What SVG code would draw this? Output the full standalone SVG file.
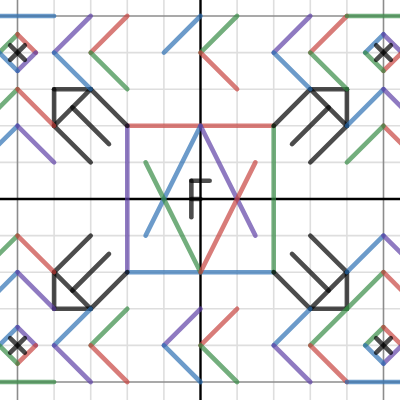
<svg xmlns="http://www.w3.org/2000/svg" width="400" height="400" viewBox="0 0 400 400">
<style>
line { vector-effect: non-scaling-stroke; stroke-linecap: round; }
.mi { stroke: #dedede; stroke-width: 1.6; stroke-linecap: butt; }
.ma { stroke: #8c8c8c; stroke-width: 1.6; stroke-linecap: butt; }
.ax { stroke: #000; stroke-width: 2.4; stroke-linecap: butt; }
.s line { stroke-width: 4.6; stroke-opacity: 0.7; }
.r { stroke: #c74440; }
.b { stroke: #2d70b3; }
.g { stroke: #388c46; }
.p { stroke: #6042a6; }
.k { stroke: #000; }
</style>
<rect width="400" height="400" fill="#fff"/>
<g transform="translate(200.5,199) scale(36.6,-36.6)">
<g id="grid">
<line class="mi" x1="-4" y1="-6" x2="-4" y2="6"/>
<line class="mi" x1="-3" y1="-6" x2="-3" y2="6"/>
<line class="mi" x1="-2" y1="-6" x2="-2" y2="6"/>
<line class="mi" x1="-1" y1="-6" x2="-1" y2="6"/>
<line class="mi" x1="1" y1="-6" x2="1" y2="6"/>
<line class="mi" x1="2" y1="-6" x2="2" y2="6"/>
<line class="mi" x1="3" y1="-6" x2="3" y2="6"/>
<line class="mi" x1="4" y1="-6" x2="4" y2="6"/>
<line class="mi" y1="-4" x1="-6" y2="-4" x2="6"/>
<line class="mi" y1="-3" x1="-6" y2="-3" x2="6"/>
<line class="mi" y1="-2" x1="-6" y2="-2" x2="6"/>
<line class="mi" y1="-1" x1="-6" y2="-1" x2="6"/>
<line class="mi" y1="1" x1="-6" y2="1" x2="6"/>
<line class="mi" y1="2" x1="-6" y2="2" x2="6"/>
<line class="mi" y1="3" x1="-6" y2="3" x2="6"/>
<line class="mi" y1="4" x1="-6" y2="4" x2="6"/>
<line class="ma" x1="-5" y1="-6" x2="-5" y2="6"/>
<line class="ma" x1="5" y1="-6" x2="5" y2="6"/>
<line class="ma" y1="-5" x1="-6" y2="-5" x2="6"/>
<line class="ma" y1="5" x1="-6" y2="5" x2="6"/>
<line class="ax" x1="0" y1="-6" x2="0" y2="6"/>
<line class="ax" y1="0" x1="-6" y2="0" x2="6"/>
</g>
<g id="center" class="s">
<line class="r" x1="-2" y1="2" x2="2" y2="2"/>
<line class="p" x1="-2" y1="2" x2="-2" y2="-2"/>
<line class="b" x1="-2" y1="-2" x2="2" y2="-2"/>
<line class="g" x1="2" y1="2" x2="2" y2="-2"/>
<line class="b" x1="0" y1="2" x2="-1.5" y2="-1"/>
<line class="p" x1="0" y1="2" x2="1.5" y2="-1"/>
<line class="g" x1="-1.5" y1="1" x2="0" y2="-2"/>
<line class="r" x1="0" y1="-2" x2="1.5" y2="1"/>
<line class="k" x1="-0.25" y1="0.5" x2="-0.25" y2="-0.5"/>
<line class="k" x1="-0.25" y1="0.5" x2="0.25" y2="0.5"/>
<line class="k" x1="-0.25" y1="0" x2="0" y2="0"/>
</g>
<g id="arrow-tl" class="s">
<line class="k" x1="-4" y1="3" x2="-3" y2="3"/>
<line class="k" x1="-4" y1="3" x2="-4" y2="2"/>
<line class="k" x1="-4" y1="2" x2="-3" y2="3"/>
<line class="k" x1="-3" y1="3" x2="-2" y2="2"/>
<line class="k" x1="-3.5" y1="2.5" x2="-2.5" y2="1.5"/>
<line class="k" x1="-4" y1="2" x2="-3" y2="1"/>
</g>
<g id="arrow-tr" class="s">
<line class="k" x1="3" y1="3" x2="4" y2="3"/>
<line class="k" x1="4" y1="3" x2="4" y2="2"/>
<line class="k" x1="3" y1="3" x2="4" y2="2"/>
<line class="k" x1="2" y1="2" x2="3" y2="3"/>
<line class="k" x1="3.5" y1="2.5" x2="2.5" y2="1.5"/>
<line class="k" x1="4" y1="2" x2="3" y2="1"/>
</g>
<g id="arrow-bl" class="s">
<line class="k" x1="-4" y1="-2" x2="-4" y2="-3"/>
<line class="k" x1="-4" y1="-3" x2="-3" y2="-3"/>
<line class="k" x1="-4" y1="-2" x2="-3" y2="-3"/>
<line class="k" x1="-3" y1="-3" x2="-2" y2="-2"/>
<line class="k" x1="-4" y1="-2" x2="-3" y2="-1"/>
<line class="k" x1="-3.5" y1="-2.5" x2="-2.5" y2="-1.5"/>
</g>
<g id="arrow-br" class="s">
<line class="k" x1="4" y1="-2" x2="4" y2="-3"/>
<line class="k" x1="3" y1="-3" x2="4" y2="-3"/>
<line class="k" x1="4" y1="-2" x2="3" y2="-3"/>
<line class="k" x1="2" y1="-2" x2="3" y2="-3"/>
<line class="k" x1="4" y1="-2" x2="3" y2="-1"/>
<line class="k" x1="3.5" y1="-2.5" x2="2.5" y2="-1.5"/>
</g>
<g id="pattern" class="s">
<line class="b" x1="-6" y1="5" x2="-4" y2="5"/>
<line class="p" x1="-3" y1="5" x2="-4" y2="4"/>
<line class="b" x1="-4" y1="4" x2="-3" y2="3"/>
<line class="r" x1="-2" y1="5" x2="-3" y2="4"/>
<line class="g" x1="-3" y1="4" x2="-2" y2="3"/>
<line class="b" x1="-1" y1="4" x2="0" y2="5"/>
<line class="g" x1="0" y1="4" x2="1" y2="5"/>
<line class="r" x1="0" y1="4" x2="1" y2="3"/>
<line class="p" x1="3" y1="5" x2="2" y2="4"/>
<line class="b" x1="2" y1="4" x2="3" y2="3"/>
<line class="r" x1="4" y1="5" x2="3" y2="4"/>
<line class="g" x1="3" y1="4" x2="4" y2="3"/>
<line class="g" x1="4" y1="5" x2="6" y2="5"/>
<line class="g" x1="-5" y1="3" x2="-6" y2="2"/>
<line class="r" x1="-5" y1="3" x2="-4" y2="2"/>
<line class="b" x1="-5" y1="2" x2="-6" y2="1"/>
<line class="p" x1="-5" y1="2" x2="-4" y2="1"/>
<line class="b" x1="5" y1="3" x2="4" y2="2"/>
<line class="p" x1="5" y1="3" x2="6" y2="2"/>
<line class="r" x1="5" y1="2" x2="6" y2="1"/>
<line class="g" x1="5" y1="2" x2="4" y2="1"/>
<line class="g" x1="-5" y1="-1" x2="-6" y2="-2"/>
<line class="r" x1="-5" y1="-1" x2="-4" y2="-2"/>
<line class="b" x1="-5" y1="-2" x2="-6" y2="-3"/>
<line class="p" x1="-5" y1="-2" x2="-4" y2="-3"/>
<line class="b" x1="5" y1="-1" x2="4" y2="-2"/>
<line class="p" x1="5" y1="-1" x2="6" y2="-2"/>
<line class="g" x1="5" y1="-2" x2="4" y2="-3"/>
<line class="g" x1="4" y1="-3" x2="3" y2="-4"/>
<line class="r" x1="5" y1="-2" x2="6" y2="-3"/>
<line class="b" x1="-3" y1="-3" x2="-4" y2="-4"/>
<line class="p" x1="-4" y1="-4" x2="-3" y2="-5"/>
<line class="g" x1="-2" y1="-3" x2="-3" y2="-4"/>
<line class="r" x1="-3" y1="-4" x2="-2" y2="-5"/>
<line class="p" x1="0" y1="-3" x2="-1" y2="-4"/>
<line class="b" x1="-1" y1="-4" x2="0" y2="-5"/>
<line class="r" x1="0" y1="-4" x2="1" y2="-3"/>
<line class="g" x1="0" y1="-4" x2="1" y2="-5"/>
<line class="b" x1="3" y1="-3" x2="2" y2="-4"/>
<line class="p" x1="2" y1="-4" x2="3" y2="-5"/>
<line class="r" x1="3" y1="-4" x2="4" y2="-5"/>
<line class="g" x1="-6" y1="-5" x2="-4" y2="-5"/>
<line class="b" x1="4" y1="-5" x2="6" y2="-5"/>
</g>
<g id="diamond-tl" class="s">
<line class="g" x1="-5.5" y1="4" x2="-5" y2="4.5"/>
<line class="r" x1="-5" y1="4.5" x2="-4.5" y2="4"/>
<line class="p" x1="-4.5" y1="4" x2="-5" y2="3.5"/>
<line class="b" x1="-5" y1="3.5" x2="-5.5" y2="4"/>
<line class="k" x1="-5.2" y1="3.8" x2="-4.8" y2="4.2"/>
<line class="k" x1="-5.2" y1="4.2" x2="-4.8" y2="3.8"/>
</g>
<g id="diamond-tr" class="s">
<line class="b" x1="4.5" y1="4" x2="5" y2="4.5"/>
<line class="p" x1="5" y1="4.5" x2="5.5" y2="4"/>
<line class="r" x1="5.5" y1="4" x2="5" y2="3.5"/>
<line class="g" x1="5" y1="3.5" x2="4.5" y2="4"/>
<line class="k" x1="4.8" y1="3.8" x2="5.2" y2="4.2"/>
<line class="k" x1="4.8" y1="4.2" x2="5.2" y2="3.8"/>
</g>
<g id="diamond-bl" class="s">
<line class="b" x1="-5.5" y1="-4" x2="-5" y2="-3.5"/>
<line class="p" x1="-5" y1="-3.5" x2="-4.5" y2="-4"/>
<line class="r" x1="-4.5" y1="-4" x2="-5" y2="-4.5"/>
<line class="g" x1="-5" y1="-4.5" x2="-5.5" y2="-4"/>
<line class="k" x1="-5.2" y1="-4.2" x2="-4.8" y2="-3.8"/>
<line class="k" x1="-5.2" y1="-3.8" x2="-4.8" y2="-4.2"/>
</g>
<g id="diamond-br" class="s">
<line class="g" x1="4.5" y1="-4" x2="5" y2="-3.5"/>
<line class="r" x1="5" y1="-3.5" x2="5.5" y2="-4"/>
<line class="p" x1="5.5" y1="-4" x2="5" y2="-4.5"/>
<line class="b" x1="5" y1="-4.5" x2="4.5" y2="-4"/>
<line class="k" x1="4.8" y1="-4.2" x2="5.2" y2="-3.8"/>
<line class="k" x1="4.8" y1="-3.8" x2="5.2" y2="-4.2"/>
</g>
</g>
</svg>
